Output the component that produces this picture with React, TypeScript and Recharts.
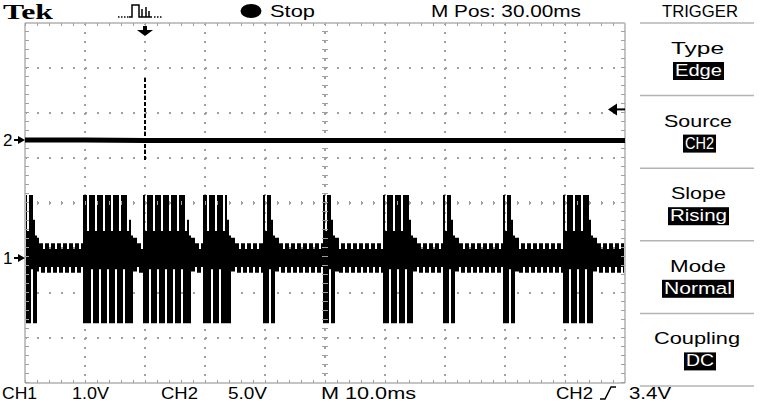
import React from "react";
import {
  ComposedChart,
  Bar,
  Line,
  XAxis,
  YAxis,
  CartesianGrid,
  ReferenceLine,
  ReferenceDot,
} from "recharts";

// Horizontal: 10.0 ms/div, 10 divisions across the graticule
const timeDivisions = [0, 10, 20, 30, 40, 50, 60, 70, 80, 90, 100];
const verticalDivisions = [-4, -3, -2, -1, 0, 1, 2, 3, 4];

// CH1 (1.0 V/div) peak-detect levels, [low, high] in volts, keyed by code
const ch1Codes = ["F", "T", "B", "a", "b", "c", "u", "n", "d"];
const ch1Low = [-1.45, -1.45, -0.25, -1.45, -1.45, -0.3, -0.2, -0.33, -0.33];
const ch1High = [1.4, 0.6, 1.4, 0.85, 0.5, 0.45, 0.33, 0.33, 0.2];

// CH1 record: one code per 1/3 ms column, one string per division
const ch1Record = [
  "FTFBabcundundundundundundunduF",
  "FTFBFTFBFTFBFTFBFTFBFTabccundF",
  "TFBFTFBFTFBFTFBFTFBFTabccunduF",
  "FTFBFTFBFTFabccundundundundunF",
  "TFBabccundundundundundundunduF",
  "TFBabccdnudnudnudnudnudnudnudF",
  "TFBFTFBFTFBFabccundundundunduF",
  "TFBabccundundundundundundunduF",
  "TFBabccdnudnudnudnudnudnudnudF",
  "TFBFTFBFTFBFabccundundundundun",
];

// CH2 (5.0 V/div)
const ch2Times = [0, 10, 20, 30, 40, 50, 60, 70, 80, 90, 100];
const ch2Volts = [0, 0, -0.05, -0.05, -0.05, -0.05, -0.05, -0.05, -0.05, -0.05, -0.05];
const ch2SpikeTimes = [20, 20];
const ch2SpikeVolts = [6.9, -2.45];

// trigger
const triggerTime = 20; // ms from left edge of screen
const triggerLevel = 3.4; // V on CH2
const ch1GroundDivFromTop = 5.222;
const ch2GroundDivFromTop = 2.6;

// text
const headerLabels = ["Tek", "Stop", "M Pos: 30.00ms", "TRIGGER"];
const menuTitles = ["Type", "Source", "Slope", "Mode", "Coupling"];
const menuValues = ["Edge", "CH2", "Rising", "Normal", "DC"];
const readoutLabels = ["CH1", "1.0V", "CH2", "5.0V", "M 10.0ms", "CH2", "3.4V"];

// ---------------- tables for the library ----------------
const ch1Table = ch1Record
  .join("")
  .split("")
  .map((code, i) => {
    const k = ch1Codes.indexOf(code);
    return { col: i, t: (i * timeDivisions[1]) / 30, v: [ch1Low[k], ch1High[k]] };
  });

const ch2Table = ch2Times.map((t, i) => ({ t, v: ch2Volts[i] }));
const ch2SpikeTable = ch2SpikeTimes.map((t, i) => ({ t, v: ch2SpikeVolts[i] }));

const ch1Domain = [ch1GroundDivFromTop - 8, ch1GroundDivFromTop];
const ch2Domain = [(ch2GroundDivFromTop - 8) * 5, ch2GroundDivFromTop * 5];

// ---------------- styling ----------------
const W = 768;
const H = 408;
const sans = "'Liberation Sans', Arial, Helvetica, sans-serif";
const serif = "'Liberation Serif', 'Times New Roman', serif";
const borderColor = "#c4c4c4";
const tickColor = "#a0a0a0";
const gridColor = "#a0a0a0";
// inward border tick marks: inset of the tick row from the border (in axis units)
const tickInsetDiv = 1.5 / 45;
const tickInsetMs = 2 / 6;

const headerPos = [
  { x: 3, y: 19, w: 50 },
  { x: 270, y: 17, w: 45 },
  { x: 431, y: 17, w: 150 },
  { x: 662, y: 17, w: 76 },
];
const readoutPos = [
  { x: 2, w: 35 },
  { x: 72, w: 37 },
  { x: 161, w: 37 },
  { x: 228, w: 39 },
  { x: 321, w: 95 },
  { x: 556, w: 37 },
  { x: 629, w: 42 },
];
const menuTitlePos = [
  { x: 671, w: 53 },
  { x: 664, w: 68 },
  { x: 671, w: 55 },
  { x: 670, w: 56 },
  { x: 654, w: 86 },
];
const menuBoxPos = [
  { x: 673, w: 51 },
  { x: 683, w: 33 },
  { x: 668, w: 61 },
  { x: 662, w: 72 },
  { x: 684, w: 32 },
];
const menuSeparators = [23, 95.6, 168.2, 240.8, 313.4, 386];

const ChannelMarker = (label: string) => (p: any) => {
  const { cx, cy } = p;
  return (
    <g>
      <text x={cx - 22} y={cy + 6} fontFamily={sans} fontSize={17} fill="#000">
        {label}
      </text>
      <line x1={cx - 11} y1={cy} x2={cx - 3} y2={cy} stroke="#000" strokeWidth={2} />
      <path d={`M${cx - 7} ${cy - 4} L${cx} ${cy} L${cx - 7} ${cy + 4} Z`} fill="#000" />
    </g>
  );
};

const TriggerPosMarker = (p: any) => {
  const { cx, cy } = p;
  return (
    <g>
      <rect x={cx - 2} y={cy + 3} width={4} height={4} fill="#000" />
      <path d={`M${cx - 8} ${cy + 7} L${cx + 8} ${cy + 7} L${cx} ${cy + 13} Z`} fill="#000" />
    </g>
  );
};

const TriggerLevelMarker = (p: any) => {
  const { cx, cy } = p;
  return (
    <g>
      <line x1={cx - 12} y1={cy} x2={cx} y2={cy} stroke="#000" strokeWidth={2} />
      <path d={`M${cx - 17} ${cy} L${cx - 8} ${cy - 6} L${cx - 8} ${cy + 6} Z`} fill="#000" />
    </g>
  );
};

const Txt = ({ x, y, w, s = 17, fill = "#000", family = sans, weight = "normal", children }: any) => (
  <text
    x={x}
    y={y}
    textLength={w}
    lengthAdjust="spacingAndGlyphs"
    fontSize={s}
    fill={fill}
    fontFamily={family}
    fontWeight={weight}
  >
    {children}
  </text>
);

export default function App() {
  return (
    <div style={{ position: "absolute", left: 0, top: 0, width: W, height: H, background: "#fff" }}>
      <ComposedChart
        width={W}
        height={H}
        data={ch1Table}
        barCategoryGap={0}
        barGap={0}
        margin={{ top: 23, right: 143, bottom: 25, left: 25 }}
      >
        <XAxis xAxisId="t" dataKey="t" type="number" domain={[0, 100]} ticks={timeDivisions} allowDataOverflow hide />
        <XAxis xAxisId="c" dataKey="col" type="category" hide />
        <YAxis yAxisId="g" type="number" domain={[-4, 4]} ticks={verticalDivisions} hide allowDataOverflow />
        <YAxis yAxisId="ch1" type="number" domain={ch1Domain} hide allowDataOverflow />
        <YAxis yAxisId="ch2" type="number" domain={ch2Domain} hide allowDataOverflow />

        <CartesianGrid
          xAxisId="t"
          yAxisId="g"
          vertical={false}
          horizontalValues={verticalDivisions.slice(1, -1)}
          stroke={gridColor}
          strokeWidth={2}
          strokeDasharray="2 10"
        />
        <CartesianGrid
          xAxisId="t"
          yAxisId="g"
          horizontal={false}
          verticalValues={timeDivisions.slice(1, -1)}
          stroke={gridColor}
          strokeWidth={2}
          strokeDasharray="2 7"
        />
        {/* centre cross with minor ticks */}
        <ReferenceLine xAxisId="t" yAxisId="g" y={0} stroke={gridColor} strokeWidth={4} strokeDasharray="1 11" />
        <ReferenceLine xAxisId="t" yAxisId="g" x={50} stroke={gridColor} strokeWidth={6} strokeDasharray="1 8" />
        {/* graticule border */}
        <ReferenceLine xAxisId="t" yAxisId="g" y={4} stroke={borderColor} strokeWidth={2} />
        <ReferenceLine xAxisId="t" yAxisId="g" y={-4} stroke={borderColor} strokeWidth={2} />
        <ReferenceLine xAxisId="t" yAxisId="g" x={0} stroke={borderColor} strokeWidth={2} />
        <ReferenceLine xAxisId="t" yAxisId="g" x={100} stroke={borderColor} strokeWidth={2} />
        {/* inward minor ticks on the border */}
        <ReferenceLine xAxisId="t" yAxisId="g" y={4 - tickInsetDiv} stroke={tickColor} strokeWidth={3} strokeDasharray="1 11" />
        <ReferenceLine xAxisId="t" yAxisId="g" y={-4 + tickInsetDiv} stroke={tickColor} strokeWidth={3} strokeDasharray="1 11" />
        <ReferenceLine xAxisId="t" yAxisId="g" x={tickInsetMs} stroke={tickColor} strokeWidth={4} strokeDasharray="1 8" />
        <ReferenceLine xAxisId="t" yAxisId="g" x={100 - tickInsetMs} stroke={tickColor} strokeWidth={4} strokeDasharray="1 8" />

        <Bar xAxisId="c" yAxisId="ch1" dataKey="v" fill="#000" isAnimationActive={false} />
        <Line
          xAxisId="t"
          yAxisId="ch2"
          data={ch2Table}
          dataKey="v"
          type="linear"
          stroke="#000"
          strokeWidth={5}
          dot={false}
          activeDot={false}
          isAnimationActive={false}
        />
        <Line
          xAxisId="t"
          yAxisId="ch2"
          data={ch2SpikeTable}
          dataKey="v"
          type="linear"
          stroke="#000"
          strokeWidth={2}
          strokeDasharray="4 2"
          dot={false}
          activeDot={false}
          isAnimationActive={false}
        />

        <ReferenceDot xAxisId="t" yAxisId="ch1" x={0} y={0} r={0} ifOverflow="visible" shape={ChannelMarker("1")} />
        <ReferenceDot xAxisId="t" yAxisId="ch2" x={0} y={0} r={0} ifOverflow="visible" shape={ChannelMarker("2")} />
        <ReferenceDot xAxisId="t" yAxisId="g" x={triggerTime} y={4} r={0} ifOverflow="visible" shape={TriggerPosMarker} />
        <ReferenceDot xAxisId="t" yAxisId="ch2" x={100} y={triggerLevel} r={0} ifOverflow="visible" shape={TriggerLevelMarker} />
      </ComposedChart>

      <svg width={W} height={H} style={{ position: "absolute", left: 0, top: 0, pointerEvents: "none" }}>
        {/* header */}
        <Txt {...headerPos[0]} s={21} family={serif} weight="bold">{headerLabels[0]}</Txt>
        <path
          d="M118 17h1.5 M121 17h1.5 M124 17h1.5 M127 17h1.5 M129 17 L132 17 L132 5 L139 5 L139 17 L142 17 M142 17 L142 9 M146 17 L146 7 M149 17 L149 11 M142 17 L152 17 M154 17h1.5 M157 17h1.5 M160 17h1.5"
          stroke="#000"
          strokeWidth={1.5}
          fill="none"
        />
        <ellipse cx={251} cy={11} rx={10.5} ry={7} fill="#000" />
        <Txt {...headerPos[1]}>{headerLabels[1]}</Txt>
        <Txt {...headerPos[2]}>{headerLabels[2]}</Txt>
        <Txt {...headerPos[3]}>{headerLabels[3]}</Txt>

        {/* right menu */}
        {menuSeparators.map((y, i) => (
          <line key={"s" + i} x1={640} y1={y} x2={754} y2={y} stroke="#b4b4b4" strokeWidth={1.5} />
        ))}
        {menuTitles.map((t, i) => (
          <Txt key={"t" + i} x={menuTitlePos[i].x} y={54 + i * 72.6} w={menuTitlePos[i].w}>
            {t}
          </Txt>
        ))}
        {menuValues.map((t, i) => (
          <g key={"v" + i}>
            <rect x={menuBoxPos[i].x} y={62 + i * 72.6} width={menuBoxPos[i].w} height={18} fill="#000" />
            <Txt x={menuBoxPos[i].x + 2} y={76 + i * 72.6} w={menuBoxPos[i].w - 4} s={16} fill="#fff">
              {t}
            </Txt>
          </g>
        ))}

        {/* bottom readout */}
        {readoutLabels.map((t, i) => (
          <Txt key={"r" + i} x={readoutPos[i].x} y={399} w={readoutPos[i].w} s={16}>
            {t}
          </Txt>
        ))}
        <path d="M600 399 L605 399 L611 387 L616 387" stroke="#000" strokeWidth={1.5} fill="none" />
      </svg>
    </div>
  );
}
